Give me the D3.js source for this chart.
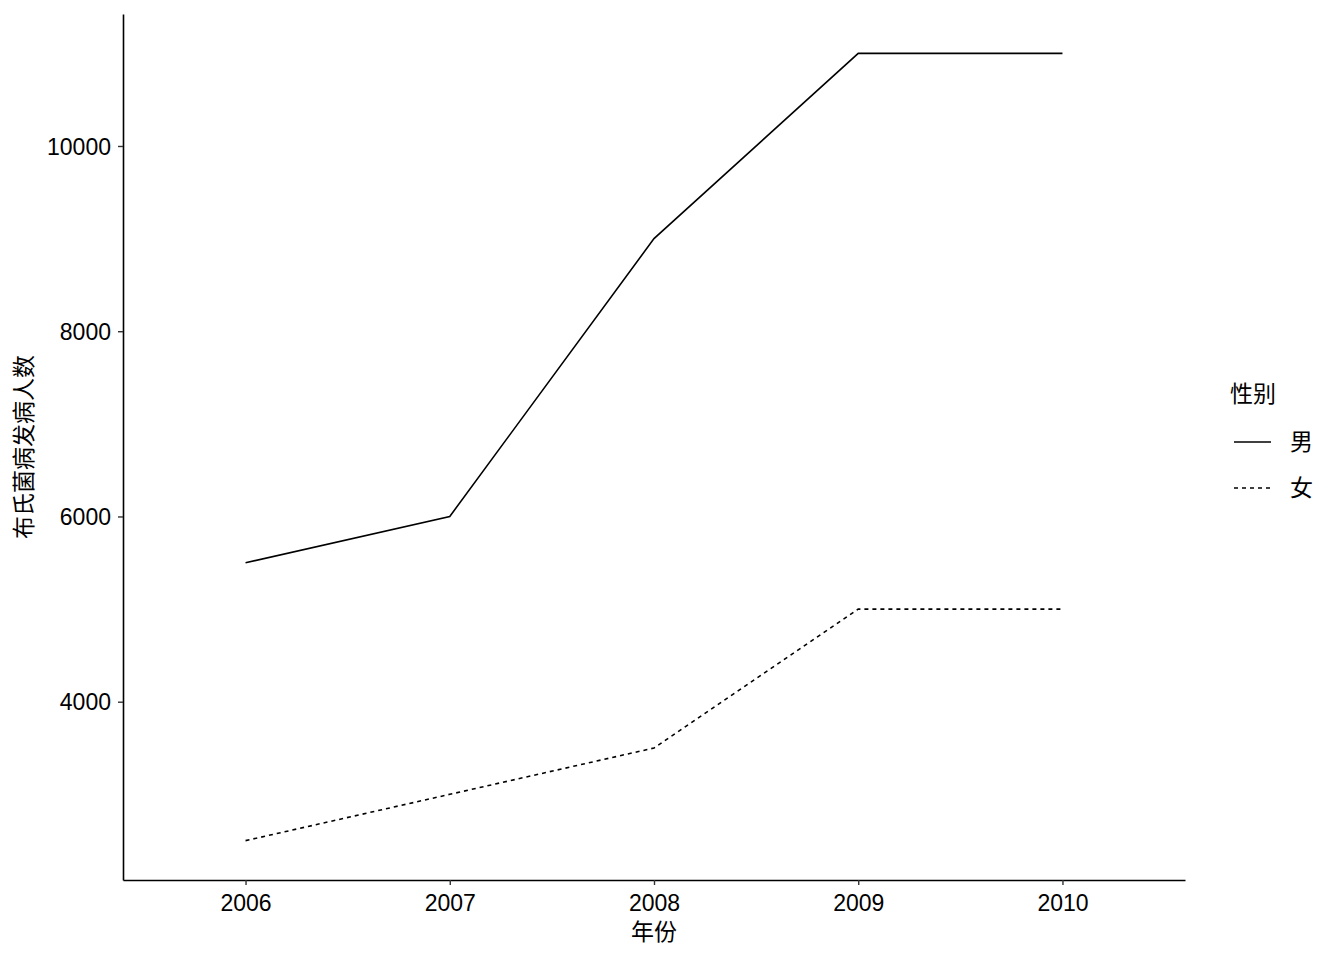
<!DOCTYPE html>
<html>
<head>
<meta charset="utf-8">
<script src="https://cdn.jsdelivr.net/npm/d3@7"></script>
<style>
  body { margin: 0; background: #fff; }
  svg text { font-family: "Liberation Sans", Arial, "Noto Sans CJK SC", sans-serif; fill: #000; }
</style>
</head>
<body>
<svg id="chart" width="1344" height="960"></svg>
<script>
const years = ["2006", "2007", "2008", "2009", "2010"];
const maleValues = [5500, 6000, 9000, 11000, 11000];
const femaleValues = [2500, 3000, 3500, 5000, 5000];
const yTicks = [4000, 6000, 8000, 10000];
const seriesNames = ["男", "女"];

const dimensions = { left: 123, right: 1185, top: 14, bottom: 880 };
const svg = d3.select("#chart");

const xScale = d3
  .scaleLinear()
  .domain([0.4, years.length + 0.6])
  .range([dimensions.left, dimensions.right]);

const yScale = d3
  .scaleLinear()
  .domain([2075, 11425])
  .range([dimensions.bottom, dimensions.top]);

const series = [
  { name: seriesNames[0], values: maleValues, dash: null },
  { name: seriesNames[1], values: femaleValues, dash: "4,4" }
];

const line = d3
  .line()
  .x((d, i) => xScale(i + 1))
  .y(d => yScale(d));

svg
  .selectAll("path.series")
  .data(series)
  .join("path")
  .attr("class", "series")
  .attr("d", d => line(d.values))
  .attr("fill", "none")
  .attr("stroke", "#000")
  .attr("stroke-width", 1.6)
  .attr("stroke-dasharray", d => d.dash);

// axes
const xAxis = d3
  .axisBottom(xScale)
  .tickValues(d3.range(1, years.length + 1))
  .tickFormat(i => years[i - 1])
  .tickSize(5)
  .tickSizeOuter(0);

const gx = svg
  .append("g")
  .attr("transform", `translate(0, ${dimensions.bottom})`)
  .call(xAxis);
gx.select(".domain").attr("stroke", "#000").attr("stroke-width", 1.6);
gx.selectAll(".tick line").attr("stroke", "#333").attr("stroke-width", 1.4);
gx.selectAll(".tick text")
  .attr("font-size", 23)
  .attr("dy", 0)
  .attr("y", 31);

const yAxis = d3
  .axisLeft(yScale)
  .tickValues(yTicks)
  .tickFormat(d3.format("d"))
  .tickSize(5)
  .tickSizeOuter(0);

const gy = svg
  .append("g")
  .attr("transform", `translate(${dimensions.left}, 0)`)
  .call(yAxis);
gy.select(".domain").attr("stroke", "#000").attr("stroke-width", 1.6);
gy.selectAll(".tick line").attr("stroke", "#333").attr("stroke-width", 1.4);
gy.selectAll(".tick text")
  .attr("font-size", 23)
  .attr("dy", "0.36em")
  .attr("x", -12);

// axis titles
svg
  .append("text")
  .attr("x", (dimensions.left + dimensions.right) / 2)
  .attr("y", 940)
  .attr("text-anchor", "middle")
  .attr("font-size", 23)
  .text("年份");

svg
  .append("text")
  .attr("text-anchor", "middle")
  .attr("font-size", 23)
  .attr("transform", `translate(32, ${(dimensions.top + dimensions.bottom) / 2}) rotate(-90)`)
  .text("布氏菌病发病人数");

// legend
const legend = svg.append("g").attr("transform", "translate(1230, 0)");
legend
  .append("text")
  .attr("x", 0)
  .attr("y", 402)
  .attr("font-size", 23)
  .text("性别");

const items = legend
  .selectAll("g.item")
  .data(series)
  .join("g")
  .attr("class", "item")
  .attr("transform", (d, i) => `translate(0, ${442 + i * 46})`);

items
  .append("line")
  .attr("x1", 4)
  .attr("x2", 41)
  .attr("y1", 0)
  .attr("y2", 0)
  .attr("stroke", "#000")
  .attr("stroke-width", 1.6)
  .attr("stroke-dasharray", d => d.dash);

items
  .append("text")
  .attr("x", 60)
  .attr("y", 8)
  .attr("font-size", 23)
  .text(d => d.name);
</script>
</body>
</html>
